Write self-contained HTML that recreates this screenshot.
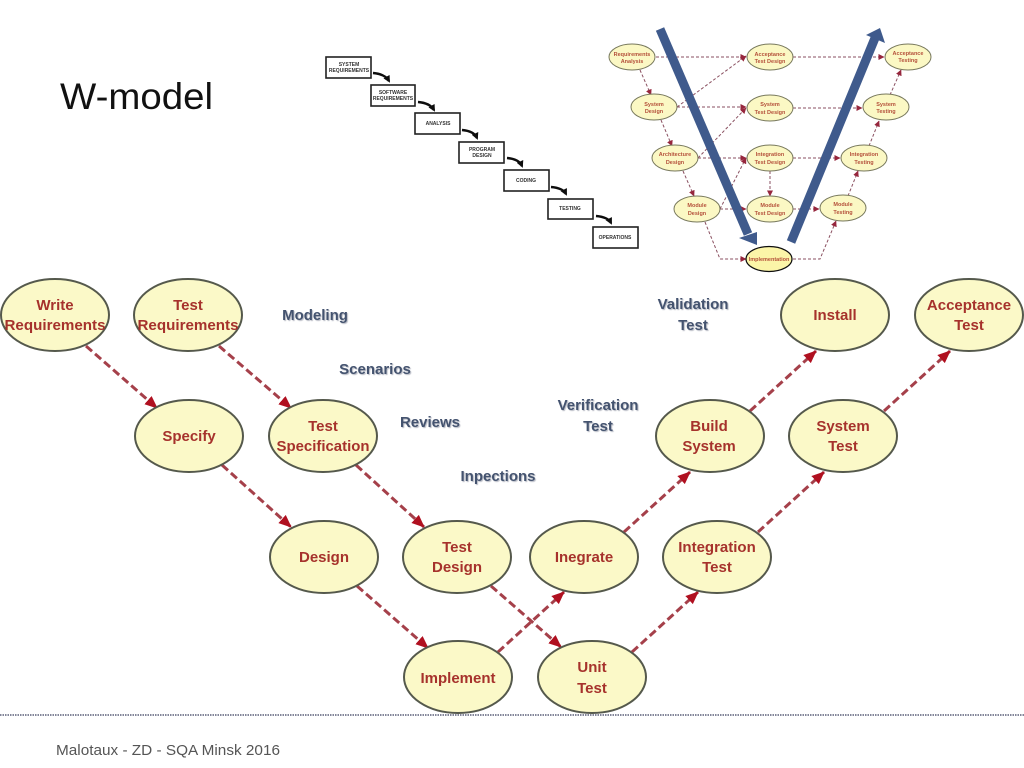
<!DOCTYPE html>
<html>
<head>
<meta charset="utf-8">
<style>
html,body{margin:0;padding:0;background:#fff;width:1024px;height:768px;overflow:hidden}
svg{display:block}
text{font-family:"Liberation Sans",sans-serif}
.n{fill:#fbf9c8;stroke:#55594c;stroke-width:2}
.t{font-size:15px;font-weight:bold;fill:#a6322c;text-anchor:middle}
.b{font-size:15px;font-weight:bold;fill:#44536f;text-anchor:middle;text-shadow:1px 1px 1px #b5b8c2}
.a{stroke:#a5404a;stroke-width:3;stroke-dasharray:8 4;fill:none;marker-end:url(#m)}
.sn{fill:#fbf8c4;stroke:#77785c;stroke-width:1}
.st{font-size:5.5px;font-weight:bold;fill:#b4503a;text-anchor:middle}
.sa{stroke:#8a5060;stroke-width:1;stroke-dasharray:3 2;fill:none;marker-end:url(#ms)}
.w{fill:#fff;stroke:#222;stroke-width:1.6}
.wt{font-size:5px;font-weight:bold;fill:#333;text-anchor:middle}
.wa{stroke:#111;stroke-width:2.4;fill:none;marker-end:url(#mw)}
</style>
</head>
<body>
<svg width="1024" height="768" viewBox="0 0 1024 768" xmlns="http://www.w3.org/2000/svg">
<defs>
<marker id="m" markerUnits="userSpaceOnUse" markerWidth="13" markerHeight="11" refX="12" refY="5.5" orient="auto"><path d="M0 0L13 5.5L0 11z" fill="#b01020"/></marker>
<marker id="ms" markerUnits="userSpaceOnUse" markerWidth="6" markerHeight="6" refX="5.5" refY="3" orient="auto"><path d="M0 0L6 3L0 6z" fill="#96283c"/></marker>
<marker id="mw" markerUnits="userSpaceOnUse" markerWidth="7" markerHeight="7" refX="5" refY="3.5" orient="auto"><path d="M0 0L7 3.5L0 7z" fill="#111"/></marker>
<filter id="bl" x="-5%" y="-5%" width="110%" height="110%"><feGaussianBlur stdDeviation="0.35"/></filter>
</defs>

<text x="60" y="109" font-size="37" fill="#111" textLength="153" lengthAdjust="spacingAndGlyphs">W-model</text>

<!-- Waterfall -->
<g filter="url(#bl)">
<rect class="w" x="326" y="57" width="45" height="21"/><text class="wt" x="349" y="66">SYSTEM</text><text class="wt" x="349" y="72">REQUIREMENTS</text>
<rect class="w" x="371" y="85" width="44" height="21"/><text class="wt" x="393" y="94">SOFTWARE</text><text class="wt" x="393" y="100">REQUIREMENTS</text>
<rect class="w" x="415" y="113" width="45" height="21"/><text class="wt" x="438" y="125">ANALYSIS</text>
<rect class="w" x="459" y="142" width="45" height="21"/><text class="wt" x="482" y="151">PROGRAM</text><text class="wt" x="482" y="157">DESIGN</text>
<rect class="w" x="504" y="170" width="45" height="21"/><text class="wt" x="526" y="182">CODING</text>
<rect class="w" x="548" y="199" width="45" height="20"/><text class="wt" x="570" y="210">TESTING</text>
<rect class="w" x="593" y="227" width="45" height="21"/><text class="wt" x="615" y="239">OPERATIONS</text>
<path class="wa" d="M373 73Q385 74 389 81"/>
<path class="wa" d="M418 102Q430 103 434 110"/>
<path class="wa" d="M462 130Q474 131 477 138"/>
<path class="wa" d="M507 158Q519 159 522 166"/>
<path class="wa" d="M551 187Q563 188 566 194"/>
<path class="wa" d="M596 216Q608 217 611 223"/>
</g>

<!-- Small V diagram -->
<g filter="url(#bl)">
<path class="sa" d="M656 57H746"/>
<path class="sa" d="M793 57H884"/>
<path class="sa" d="M677 107H746"/>
<path class="sa" d="M793 108H862"/>
<path class="sa" d="M698 158H746"/>
<path class="sa" d="M793 158H840"/>
<path class="sa" d="M720 209H746"/>
<path class="sa" d="M793 209H819"/>
<path class="sa" d="M677 107L746 56"/>
<path class="sa" d="M698 158L746 108"/>
<path class="sa" d="M720 209L746 158"/>
<path class="sa" d="M640 70L651 95"/>
<path class="sa" d="M661 120L672 146"/>
<path class="sa" d="M683 171L694 196"/>
<path class="sa" d="M770 171V196"/>
<path class="sa" d="M705 222L720 259H746"/>
<path class="sa" d="M793 259H820L836 221"/>
<path class="sa" d="M848 196L858 171"/>
<path class="sa" d="M869 146L879 121"/>
<path class="sa" d="M890 95L901 70"/>
<ellipse class="sn" cx="632" cy="57" rx="23" ry="13"/><text class="st" x="632" y="56">Requirements</text><text class="st" x="632" y="63">Analysis</text>
<ellipse class="sn" cx="654" cy="107" rx="23" ry="13"/><text class="st" x="654" y="106">System</text><text class="st" x="654" y="113">Design</text>
<ellipse class="sn" cx="675" cy="158" rx="23" ry="13"/><text class="st" x="675" y="156">Architecture</text><text class="st" x="675" y="164">Design</text>
<ellipse class="sn" cx="697" cy="209" rx="23" ry="13"/><text class="st" x="697" y="207">Module</text><text class="st" x="697" y="215">Design</text>
<ellipse class="sn" cx="770" cy="57" rx="23" ry="13"/><text class="st" x="770" y="56">Acceptance</text><text class="st" x="770" y="63">Test Design</text>
<ellipse class="sn" cx="770" cy="108" rx="23" ry="13"/><text class="st" x="770" y="106">System</text><text class="st" x="770" y="114">Test Design</text>
<ellipse class="sn" cx="770" cy="158" rx="23" ry="13"/><text class="st" x="770" y="156">Integration</text><text class="st" x="770" y="164">Test Design</text>
<ellipse class="sn" cx="770" cy="209" rx="23" ry="13"/><text class="st" x="770" y="207">Module</text><text class="st" x="770" y="215">Test Design</text>
<ellipse class="sn" cx="908" cy="57" rx="23" ry="13"/><text class="st" x="908" y="55">Acceptance</text><text class="st" x="908" y="62">Testing</text>
<ellipse class="sn" cx="886" cy="107" rx="23" ry="13"/><text class="st" x="886" y="106">System</text><text class="st" x="886" y="113">Testing</text>
<ellipse class="sn" cx="864" cy="158" rx="23" ry="13"/><text class="st" x="864" y="156">Integration</text><text class="st" x="864" y="164">Testing</text>
<ellipse class="sn" cx="843" cy="208" rx="23" ry="13"/><text class="st" x="843" y="206">Module</text><text class="st" x="843" y="214">Testing</text>
<ellipse cx="769" cy="259" rx="23" ry="12.5" fill="#fbf5a8" stroke="#111" stroke-width="1.2"/><text class="st" x="769" y="261" fill="#a02c20">Implementation</text>
</g>

<!-- Blue arrows -->
<line x1="660" y1="29" x2="748" y2="234" stroke="#3f5a8c" stroke-width="9"/>
<path d="M739 238L757 232L757 245Z" fill="#3f5a8c"/>
<line x1="791" y1="242" x2="875" y2="38" stroke="#3f5a8c" stroke-width="9"/>
<path d="M866 35L880 28L885 43Z" fill="#3f5a8c"/>

<!-- Main arrows -->
<path class="a" d="M86 346L157 408"/>
<path class="a" d="M219 346L291 408"/>
<path class="a" d="M222 465L291 527"/>
<path class="a" d="M356 465L424 527"/>
<path class="a" d="M357 586L428 648"/>
<path class="a" d="M491 586L561 647"/>
<path class="a" d="M498 652L564 592"/>
<path class="a" d="M632 652L698 592"/>
<path class="a" d="M624 532L690 472"/>
<path class="a" d="M758 532L824 472"/>
<path class="a" d="M750 411L816 351"/>
<path class="a" d="M884 411L950 351"/>

<!-- Main nodes -->
<ellipse class="n" cx="55" cy="315" rx="54" ry="36"/><text class="t" x="55" y="310">Write</text><text class="t" x="55" y="330" textLength="101" lengthAdjust="spacingAndGlyphs">Requirements</text>
<ellipse class="n" cx="188" cy="315" rx="54" ry="36"/><text class="t" x="188" y="310">Test</text><text class="t" x="188" y="330" textLength="101" lengthAdjust="spacingAndGlyphs">Requirements</text>
<ellipse class="n" cx="189" cy="436" rx="54" ry="36"/><text class="t" x="189" y="441">Specify</text>
<ellipse class="n" cx="323" cy="436" rx="54" ry="36"/><text class="t" x="323" y="431">Test</text><text class="t" x="323" y="451" textLength="93" lengthAdjust="spacingAndGlyphs">Specification</text>
<ellipse class="n" cx="324" cy="557" rx="54" ry="36"/><text class="t" x="324" y="562">Design</text>
<ellipse class="n" cx="457" cy="557" rx="54" ry="36"/><text class="t" x="457" y="552">Test</text><text class="t" x="457" y="572">Design</text>
<ellipse class="n" cx="584" cy="557" rx="54" ry="36"/><text class="t" x="584" y="562">Inegrate</text>
<ellipse class="n" cx="717" cy="557" rx="54" ry="36"/><text class="t" x="717" y="552">Integration</text><text class="t" x="717" y="572">Test</text>
<ellipse class="n" cx="458" cy="677" rx="54" ry="36"/><text class="t" x="458" y="683">Implement</text>
<ellipse class="n" cx="592" cy="677" rx="54" ry="36"/><text class="t" x="592" y="672">Unit</text><text class="t" x="592" y="693">Test</text>
<ellipse class="n" cx="710" cy="436" rx="54" ry="36"/><text class="t" x="709" y="431">Build</text><text class="t" x="709" y="451">System</text>
<ellipse class="n" cx="843" cy="436" rx="54" ry="36"/><text class="t" x="843" y="431">System</text><text class="t" x="843" y="451">Test</text>
<ellipse class="n" cx="835" cy="315" rx="54" ry="36"/><text class="t" x="835" y="320">Install</text>
<ellipse class="n" cx="969" cy="315" rx="54" ry="36"/><text class="t" x="969" y="310">Acceptance</text><text class="t" x="969" y="330">Test</text>

<!-- Blue labels -->
<text class="b" x="315" y="320">Modeling</text>
<text class="b" x="375" y="374">Scenarios</text>
<text class="b" x="430" y="427">Reviews</text>
<text class="b" x="498" y="481">Inpections</text>
<text class="b" x="693" y="309">Validation</text>
<text class="b" x="693" y="330">Test</text>
<text class="b" x="598" y="410">Verification</text>
<text class="b" x="598" y="431">Test</text>

<!-- Footer -->
<line x1="0" y1="715" x2="1024" y2="715" stroke="#5a5f78" stroke-width="1.5" stroke-dasharray="1.5 1"/>
<text x="56" y="755" font-size="15" fill="#555" textLength="224" lengthAdjust="spacingAndGlyphs">Malotaux - ZD - SQA Minsk 2016</text>
</svg>
</body>
</html>
